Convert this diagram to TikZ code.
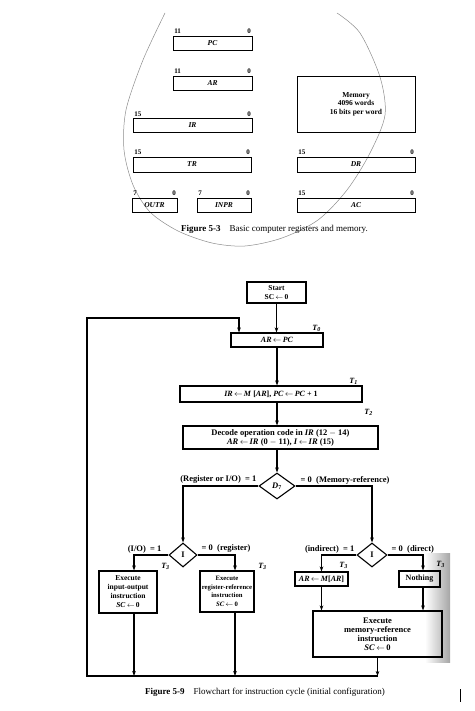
\documentclass[tikz,border=0pt]{standalone}
\usepackage{fontspec}
\setmainfont{Liberation Serif}
\usetikzlibrary{shapes.geometric, arrows.meta, positioning}
\tikzset{
  reg/.style = {rectangle, draw, line width=0.9pt, minimum height=14pt, inner sep=0pt,
                font=\fontsize{7.5}{8}\selectfont\bfseries\itshape},
  bitno/.style = {font=\fontsize{7}{7}\selectfont\bfseries, inner sep=1.5pt},
  bits/.style 2 args = {label={[bitno, anchor=south west]north west:#1},
                        label={[bitno, anchor=south east]north east:#2}},
  box/.style = {rectangle, draw, line width=1.1pt, align=center, inner sep=1pt,
                font=\fontsize{7.5}{9}\selectfont\bfseries},
  decide/.style = {diamond, draw, line width=1.1pt, inner sep=0pt, aspect=1.4,
                   font=\fontsize{8.5}{9}\selectfont\bfseries},
  flow/.style = {line width=1.3pt},
  arrow/.style = {flow, -{Stealth[length=5pt, width=3.6pt]}},
  elab/.style = {font=\fontsize{8.5}{9}\selectfont\bfseries, inner sep=1.5pt},
  tlab/.style = {font=\fontsize{8}{8}\selectfont\bfseries\itshape, inner sep=0.5pt},
  caption/.style = {font=\fontsize{9}{10}\selectfont},
}
\newcommand{\la}{\,$\leftarrow$\,}
\newcommand{\tstep}[1]{T\textsubscript{#1}}

\begin{document}
\begin{tikzpicture}[x=1pt, y=-1pt]
  \useasboundingbox (0,0) rectangle (474,711);

  % page shadow behind the right column
  \shade[left color=white, right color=black!35] (425,553) rectangle (450,662);

  % Figure 5-3: registers and memory
  \draw[black!45, line width=0.5pt] plot[smooth] coordinates {(165,13) (143,60) (126,110)
    (124,150) (133,185) (150,212) (178,231) (212,243) (245,246) (282,238) (318,220)
    (347,190) (370,153) (385,115) (380,77) (360,33) (337,13)};

  \node[reg, bits={11}{0}, minimum width=79pt]  (PC)   at (212.5,43)  {PC};
  \node[reg, bits={11}{0}, minimum width=79pt]  (AR)   at (212.5,83)  {AR};
  \node[reg, bits={15}{0}, minimum width=119pt] (IR)   at (192.5,125.5) {IR};
  \node[reg, bits={15}{0}, minimum width=118pt, minimum height=15pt] (TR) at (192,164.5) {TR};
  \node[reg, bits={7}{0},  minimum width=45pt]  (OUTR) at (154.5,205) {OUTR};
  \node[reg, bits={7}{0},  minimum width=54pt]  (INPR) at (224,205)   {INPR};

  \node[reg, minimum width=118pt, minimum height=56pt, align=center,
        font=\fontsize{7.5}{8.5}\selectfont\bfseries] (Mem) at (356,104)
        {Memory\\4096 words\\16 bits per word};
  \node[reg, bits={15}{0}, minimum width=118pt, minimum height=15pt] (DR) at (356,164.5) {DR};
  \node[reg, bits={15}{0}, minimum width=118pt] (AC) at (356,205) {AC};

  \node[caption] (cap1) at (274.5,229)
        {\textbf{Figure 5-3}\quad Basic computer registers and memory.};

  % Figure 5-9: flowchart
  \node[box, minimum width=59pt, minimum height=21pt, inner sep=0.5pt,
        font=\fontsize{7.5}{8.8}\selectfont\bfseries]
        (start) at (276.5,292.5) {Start\\SC\la 0};
  \node[box, minimum width=92pt, minimum height=14pt, font=\fontsize{8}{9}\selectfont\bfseries,
        label={[tlab, anchor=south east, xshift=-2pt]north east:\tstep{0}}]
        (ar) at (277,340) {\textit{AR}\la\textit{PC}};
  \node[box, minimum width=182pt, minimum height=16pt, font=\fontsize{8}{9}\selectfont\bfseries,
        label={[tlab, anchor=south east, xshift=-4pt]north east:\tstep{1}}]
        (ir) at (271,394) {\textit{IR}\la\textit{M} [\textit{AR}],\ \textit{PC}\la\textit{PC} + 1};
  \node[box, minimum width=195pt, minimum height=23pt, font=\fontsize{8.5}{9}\selectfont\bfseries,
        label={[tlab, anchor=south east, xshift=-5pt, yshift=9pt]north east:\tstep{2}}]
        (dec) at (280.5,437.5)
        {Decode operation code in \textit{IR} (12 $-$ 14)\\
         \textit{AR}\la\textit{IR} (0 $-$ 11),\ \textit{I}\la\textit{IR} (15)};
  \node[decide, minimum width=36pt, minimum height=26pt] (d7) at (277,486) {\textit{D}\textsubscript{7}};

  \node[decide, minimum width=28pt, minimum height=24pt] (iL) at (183,555) {I};
  \node[decide, minimum width=30pt, minimum height=24pt] (iR) at (372,555) {I};

  \node[box, minimum width=58pt, minimum height=42pt,
        label={[tlab, anchor=south west, xshift=3pt]north east:\tstep{3}}]
        (io) at (128,592) {Execute\\input-output\\instruction\\\textit{SC}\la 0};
  \node[box, minimum width=54pt, minimum height=41pt, font=\fontsize{6.7}{8.5}\selectfont\bfseries,
        label={[tlab, anchor=south west, xshift=3pt]north east:\tstep{3}}]
        (rg) at (227,591.5) {Execute\\register-reference\\instruction\\\textit{SC}\la 0};
  \node[box, minimum width=53pt, minimum height=14pt, font=\fontsize{8}{9}\selectfont\bfseries,
        label={[tlab, anchor=south east, yshift=2pt]north east:\tstep{3}}]
        (arm) at (321.5,579) {\textit{AR}\la\textit{M}[\textit{AR}]};
  \node[box, minimum width=41pt, minimum height=16pt, font=\fontsize{8}{9}\selectfont\bfseries,
        label={[tlab, anchor=south, yshift=2pt]north east:\tstep{3}}]
        (nth) at (419.5,579) {Nothing};
  \node[box, minimum width=129pt, minimum height=46pt, font=\fontsize{8.5}{9}\selectfont\bfseries]
        (exm) at (377.5,634) {Execute\\memory-reference\\instruction\\\textit{SC}\la 0};

  \coordinate (loopR) at (378,676);
  \coordinate (loopL) at (87,676);
  \coordinate (loopT) at (87,318);

  % main spine
  \draw[arrow] (start.south) -- (start.south |- ar.north);
  \draw[arrow] (ar.south) -- (ar.south |- ir.north);
  \draw[arrow] (ar.south |- ir.south) -- (ar.south |- dec.north);
  \draw[arrow] (ar.south |- dec.south) -- (d7.north);

  % decisions
  \draw[arrow] (d7.west) node[elab, anchor=south east] {(Register or I/O)\ \ = 1} -| (iL.north);
  \draw[arrow] (d7.east) node[elab, anchor=south west, xshift=3pt] {= 0\ \ (Memory-reference)} -| (iR.north);
  \draw[arrow] (iL.west) node[elab, anchor=south east, xshift=-5pt] {(I/O)\ \ = 1} -| ([xshift=6pt]io.north);
  \draw[arrow] (iL.east) node[elab, anchor=south west, xshift=2pt] {= 0\ \ (register)} -| ([xshift=8pt]rg.north);
  \draw[arrow] (iR.west) node[elab, anchor=south east] {(indirect)\ \ = 1} -| (arm.north);
  \draw[arrow] (iR.east) node[elab, anchor=south west, xshift=2pt] {= 0\ \ (direct)} -| ([xshift=3.5pt]nth.north);
  \draw[arrow] (arm.south) -- (arm.south |- exm.north);
  \draw[arrow] ([xshift=3.5pt]nth.south) -- ([xshift=3.5pt]nth.south |- exm.north);

  % back to fetch
  \draw[arrow] ([xshift=6pt]io.south) -- ([xshift=6pt]io.south |- loopL);
  \draw[arrow] ([xshift=8pt]rg.south) -- ([xshift=8pt]rg.south |- loopL);
  \draw[arrow] (exm.south) -- (exm.south |- loopR);
  \draw[arrow] (loopR) -- (loopL) -- (loopT) -| ([xshift=-38pt]ar.north);

  \node[caption] (cap2) at (265,692)
        {\textbf{Figure 5-9}\quad Flowchart for instruction cycle (initial configuration)};

  \draw[line width=1pt] (460,689) -- (460,702);
\end{tikzpicture}
\end{document}
